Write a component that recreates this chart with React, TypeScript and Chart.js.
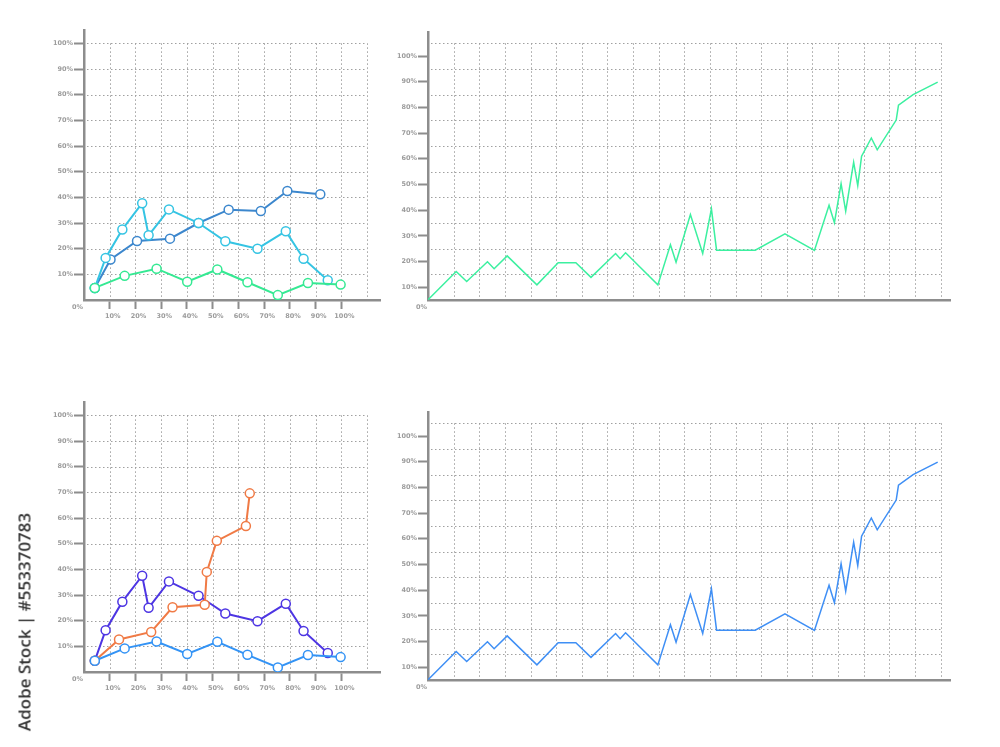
import React, { useEffect, useRef } from "react";
import { Chart, registerables } from "chart.js";

Chart.register(...registerables);

// ---------- Data: top-left chart ----------
const TL_BLUE_X = [4.2, 10.3, 20.6, 33.4, 44.5, 56.2, 68.7, 79.0, 91.8];
const TL_BLUE_Y = [4.7, 15.8, 23.0, 23.9, 30.0, 35.2, 34.7, 42.5, 41.2];
const TL_CYAN_X = [4.2, 8.4, 14.9, 22.6, 25.1, 33.0, 44.5, 54.9, 67.4, 78.4, 85.3, 94.7];
const TL_CYAN_Y = [4.7, 16.4, 27.5, 37.7, 25.2, 35.3, 30.0, 22.9, 20.0, 26.8, 16.1, 7.7];
const TL_GREEN_X = [4.2, 15.8, 28.2, 40.1, 51.8, 63.5, 75.3, 87.0, 99.7];
const TL_GREEN_Y = [4.7, 9.4, 12.2, 7.1, 11.9, 6.9, 1.9, 6.6, 6.0];

// ---------- Data: bottom-left chart ----------
const BL_BLUE_X = [4.2, 15.8, 28.2, 40.1, 51.8, 63.5, 75.3, 87.0, 99.7];
const BL_BLUE_Y = [4.4, 9.2, 11.9, 7.0, 11.8, 6.7, 1.8, 6.6, 5.8];
const BL_PURPLE_X = [4.2, 8.4, 14.9, 22.6, 25.1, 33.0, 44.5, 54.9, 67.4, 78.4, 85.3, 94.7];
const BL_PURPLE_Y = [4.4, 16.3, 27.4, 37.5, 25.0, 35.3, 29.7, 22.8, 19.8, 26.6, 16.0, 7.4];
const BL_ORANGE_X = [4.2, 13.6, 26.1, 34.4, 46.9, 47.7, 51.6, 62.9, 64.4];
const BL_ORANGE_Y = [4.4, 12.7, 15.6, 25.2, 26.2, 39.0, 51.1, 56.9, 69.6];

// ---------- Data: right charts (same trend line) ----------
const RIGHT_X = [
  0, 1.1, 1.51, 2.32, 2.58, 3.09, 4.25, 5.08, 5.77, 6.36, 7.32, 7.5, 7.71, 8.97, 9.46, 9.68,
  10.24, 10.72, 11.06, 11.26, 12.77, 13.93, 15.08, 15.65, 15.86, 16.12, 16.3, 16.61, 16.77,
  16.92, 17.3, 17.53, 18.27, 18.36, 18.93, 19.89,
];
const RIGHT_Y = [
  5.1, 16.1, 12.2, 19.9, 17.2, 22.2, 10.9, 19.5, 19.5, 13.8, 23.1, 21.1, 23.4, 10.9, 26.5, 19.7,
  38.3, 23.1, 40.5, 24.4, 24.4, 30.8, 24.3, 41.9, 35.1, 50.3, 39.6, 58.7, 49.6, 61.0, 68.1,
  63.5, 75.1, 80.9, 85.0, 89.9,
];

// ---------- Ticks / grid ----------
const PCT_TICKS = [10, 20, 30, 40, 50, 60, 70, 80, 90, 100];
const LEFT_X_GRID = [10, 20, 30, 40, 50, 60, 70, 80, 90, 100, 110];
const LEFT_Y_GRID = [10, 20, 30, 40, 50, 60, 70, 80, 90, 100];
const RIGHT_X_GRID = [1, 2, 3, 4, 5, 6, 7, 8, 9, 10, 11, 12, 13, 14, 15, 16, 17, 18, 19, 20];
const RIGHT_Y_GRID = [15, 25, 35, 45, 55, 65, 75, 85, 95, 105];

const AXIS = "#8d8d8d";
const LABEL = "#9c9c9c";
const GRID = "#a0a0a0";
const FONT = { family: "'DejaVu Sans', sans-serif", size: 6.5, weight: "bold" as const };

function pts(xs: number[], ys: number[]) {
  return xs.map((x, i) => ({ x, y: ys[i] }));
}

type GridCfg = {
  xLines: number[];
  yLines: number[];
  hTo: number;
  vFrom: number;
  vTo: number;
};

function makeGridPlugin(cfg: GridCfg) {
  return {
    id: "refGrid",
    beforeDraw(chart: any) {
      const { ctx, scales, chartArea } = chart;
      const x = scales.x;
      const y = scales.y;
      ctx.save();
      ctx.strokeStyle = GRID;
      ctx.lineWidth = 1;
      ctx.setLineDash([1.5, 2.5]);
      const xEnd = x.getPixelForValue(cfg.hTo);
      for (const v of cfg.yLines) {
        const py = Math.round(y.getPixelForValue(v)) + 0.5;
        ctx.beginPath();
        ctx.moveTo(chartArea.left + 3, py);
        ctx.lineTo(xEnd, py);
        ctx.stroke();
      }
      const yTop = y.getPixelForValue(cfg.vTo);
      const yBot = y.getPixelForValue(cfg.vFrom);
      for (const v of cfg.xLines) {
        const px = Math.round(x.getPixelForValue(v)) + 0.5;
        ctx.beginPath();
        ctx.moveTo(px, yTop);
        ctx.lineTo(px, yBot);
        ctx.stroke();
      }
      ctx.restore();
    },
    afterDraw(chart: any) {
      const { ctx, chartArea } = chart;
      ctx.save();
      ctx.fillStyle = LABEL;
      ctx.font = "bold 6.5px 'DejaVu Sans', sans-serif";
      ctx.textAlign = "center";
      ctx.textBaseline = "middle";
      ctx.fillText("0%", chartArea.left - 6.5, chartArea.bottom + 7);
      ctx.restore();
    },
  };
}

function yScale(min: number, max: number) {
  return {
    type: "linear",
    min,
    max,
    afterBuildTicks: (s: any) => {
      s.ticks = PCT_TICKS.map((v) => ({ value: v }));
    },
    afterFit: (s: any) => {
      s.width = 60;
    },
    grid: {
      drawOnChartArea: false,
      drawTicks: true,
      tickLength: 10,
      tickWidth: 2,
      tickColor: AXIS,
    },
    border: { display: true, color: AXIS, width: 2.5 },
    ticks: {
      callback: (v: any) => v + "%",
      font: FONT,
      color: LABEL,
      padding: 1,
      autoSkip: false,
    },
  };
}

function leftConfig(datasets: any[]) {
  return {
    type: "line",
    data: { datasets },
    options: {
      animation: false,
      responsive: false,
      maintainAspectRatio: false,
      layout: { padding: { top: 20, right: 20, left: 0, bottom: 0 } },
      plugins: { legend: { display: false }, tooltip: { enabled: false } },
      elements: { line: { tension: 0 } },
      scales: {
        x: {
          type: "linear",
          min: 0,
          max: 115,
          afterBuildTicks: (s: any) => {
            s.ticks = PCT_TICKS.map((v) => ({ value: v }));
          },
          afterFit: (s: any) => {
            s.height = 30;
          },
          grid: {
            drawOnChartArea: false,
            drawTicks: true,
            tickLength: 9,
            tickWidth: 2,
            tickColor: AXIS,
          },
          border: { display: true, color: AXIS, width: 2.5 },
          ticks: {
            callback: (v: any) => v + "%",
            font: FONT,
            color: LABEL,
            padding: 3,
            labelOffset: 3,
            maxRotation: 0,
            autoSkip: false,
          },
        },
        y: yScale(0, 105.2),
      },
    },
    plugins: [
      makeGridPlugin({ xLines: LEFT_X_GRID, yLines: LEFT_Y_GRID, hTo: 110, vFrom: 0, vTo: 100 }),
    ],
  };
}

function rightConfig(color: string) {
  return {
    type: "line",
    data: {
      datasets: [
        {
          data: pts(RIGHT_X, RIGHT_Y),
          borderColor: color,
          borderWidth: 1.5,
          pointRadius: 0,
          tension: 0,
        },
      ],
    },
    options: {
      animation: false,
      responsive: false,
      maintainAspectRatio: false,
      layout: { padding: { top: 20, right: 20, left: 0, bottom: 0 } },
      plugins: { legend: { display: false }, tooltip: { enabled: false } },
      scales: {
        x: {
          type: "linear",
          min: 0,
          max: 20.37,
          afterFit: (s: any) => {
            s.height = 20;
          },
          grid: { drawOnChartArea: false, drawTicks: false },
          border: { display: true, color: AXIS, width: 2.5 },
          ticks: { display: false },
        },
        y: yScale(5, 109.4),
      },
    },
    plugins: [
      makeGridPlugin({ xLines: RIGHT_X_GRID, yLines: RIGHT_Y_GRID, hTo: 20, vFrom: 5, vTo: 105 }),
    ],
  };
}

function series(xs: number[], ys: number[], color: string) {
  return {
    data: pts(xs, ys),
    borderColor: color,
    borderWidth: 2,
    pointRadius: 4.5,
    pointBorderWidth: 1.5,
    pointBorderColor: color,
    pointBackgroundColor: "#ffffff",
    tension: 0,
  };
}

function ChartBox(props: { left: number; top: number; width: number; height: number; make: () => any }) {
  const ref = useRef<HTMLCanvasElement>(null);
  useEffect(() => {
    const chart = new Chart(ref.current as HTMLCanvasElement, props.make());
    return () => chart.destroy();
  }, []);
  return (
    <canvas
      ref={ref}
      width={props.width}
      height={props.height}
      style={{
        position: "absolute",
        left: props.left,
        top: props.top,
        width: props.width,
        height: props.height,
      }}
    />
  );
}

export default function App() {
  return (
    <div
      style={{
        position: "absolute",
        left: 0,
        top: 0,
        width: 1000,
        height: 747,
        background: "#ffffff",
        overflow: "hidden",
      }}
    >
      <ChartBox
        left={24}
        top={10}
        width={376}
        height={320}
        make={() =>
          leftConfig([
            series(TL_GREEN_X, TL_GREEN_Y, "#35e993"),
            series(TL_CYAN_X, TL_CYAN_Y, "#35c4e3"),
            series(TL_BLUE_X, TL_BLUE_Y, "#3c87cd"),
          ])
        }
      />
      <ChartBox
        left={24}
        top={382}
        width={376}
        height={320}
        make={() =>
          leftConfig([
            series(BL_BLUE_X, BL_BLUE_Y, "#3393f5"),
            series(BL_ORANGE_X, BL_ORANGE_Y, "#f07a45"),
            series(BL_PURPLE_X, BL_PURPLE_Y, "#4d35e3"),
          ])
        }
      />
      <ChartBox left={368} top={12} width={602} height={308} make={() => rightConfig("#3cf0a0")} />
      <ChartBox left={368} top={392} width={602} height={308} make={() => rightConfig("#3f8ff5")} />
      <div
        style={{
          position: "absolute",
          left: 24,
          top: 622,
          transform: "translate(-50%, -50%) rotate(-90deg)",
          whiteSpace: "nowrap",
          fontFamily: "'Open Sans', 'Noto Sans', sans-serif",
          fontSize: 17,
          fontWeight: 600,
          color: "#333333",
          lineHeight: 1,
        }}
      >
        Adobe Stock | #553370783
      </div>
    </div>
  );
}
